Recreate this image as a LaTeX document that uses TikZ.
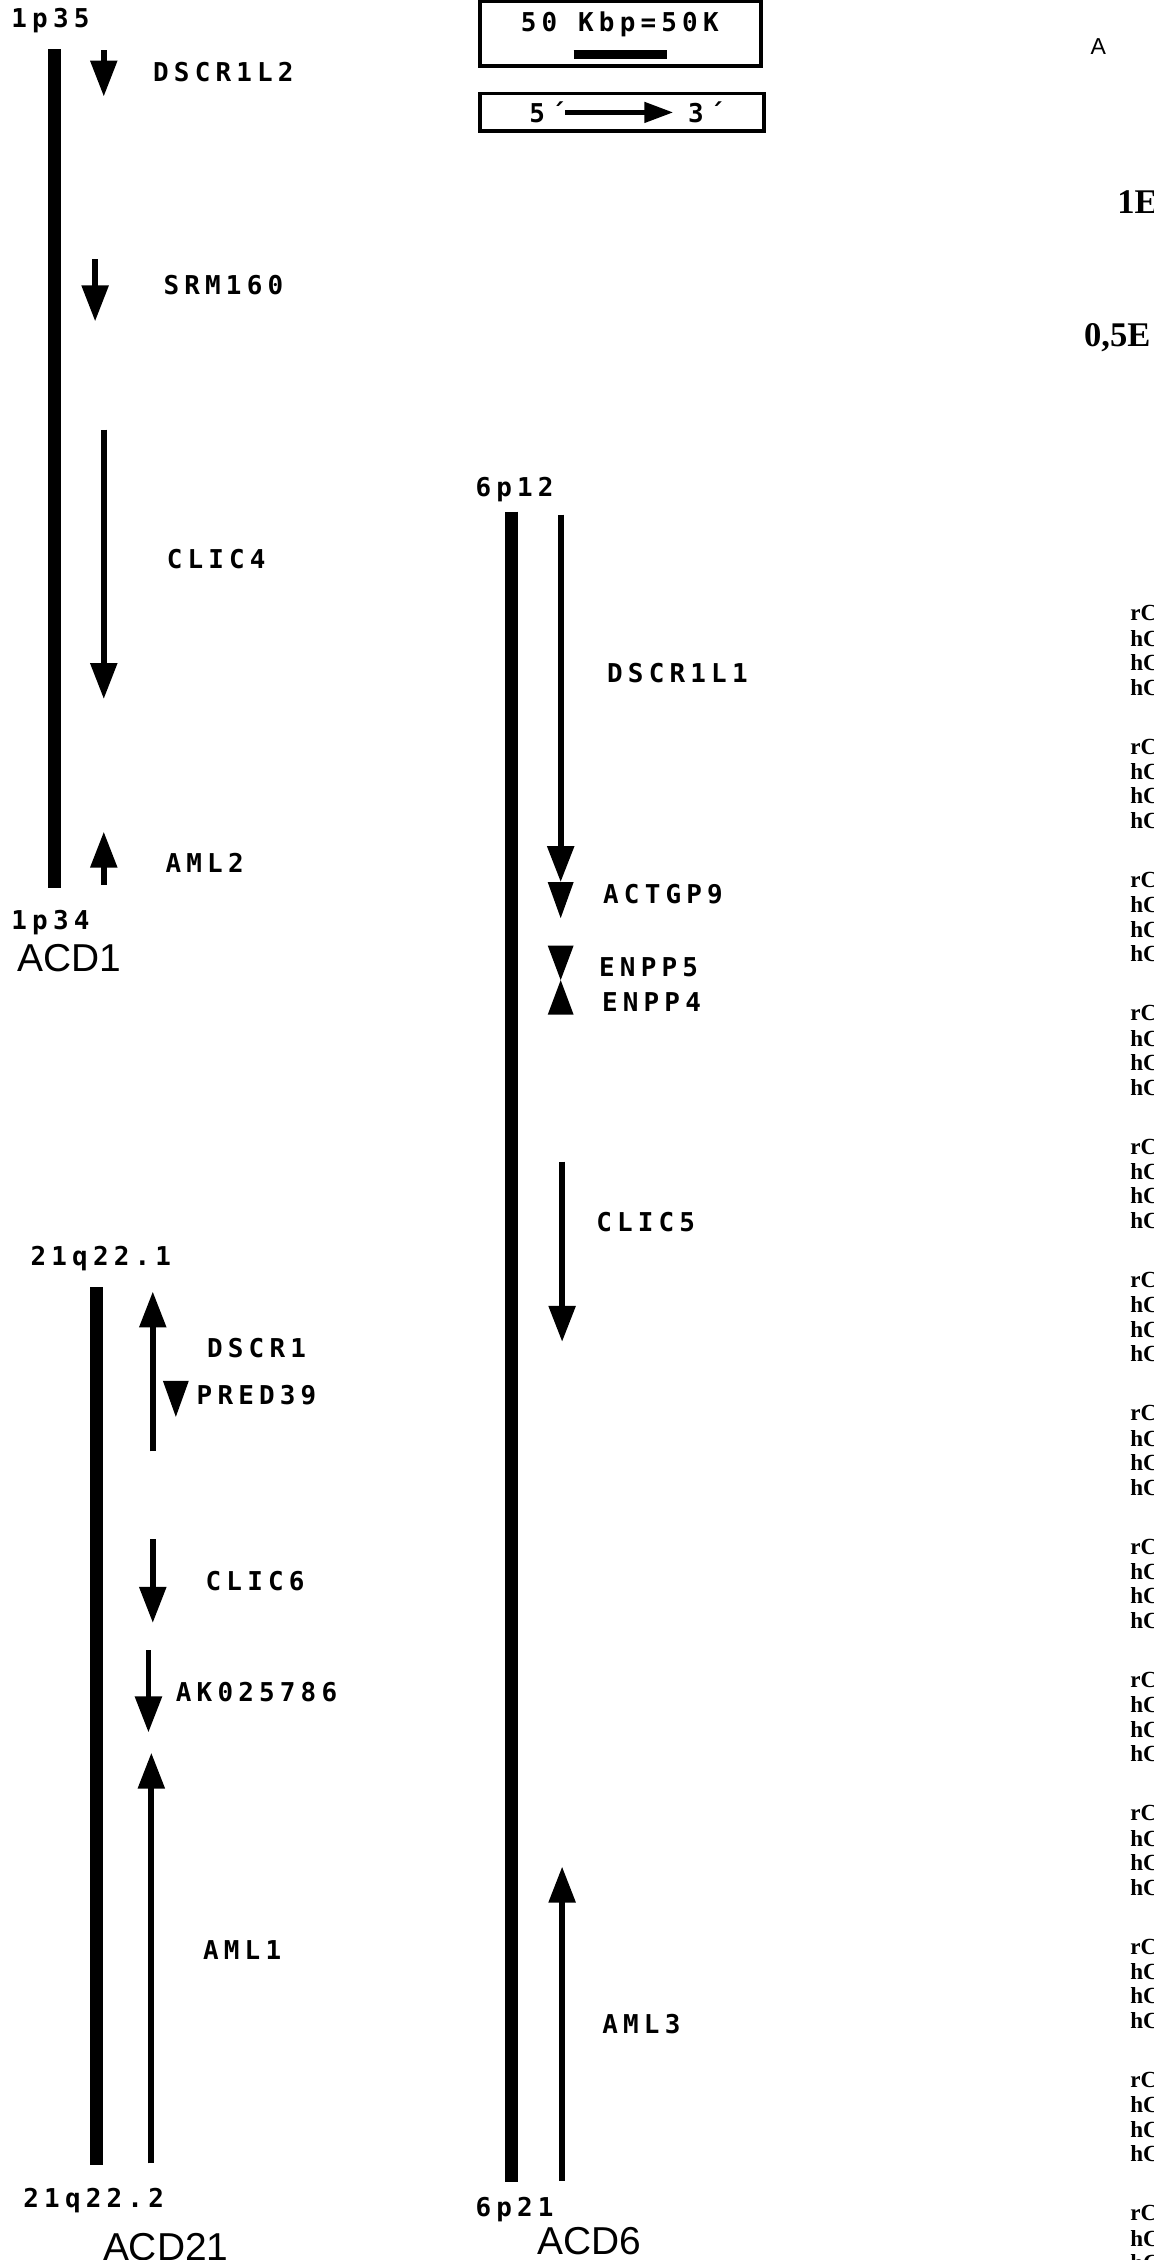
\documentclass[tikz,border=0pt]{standalone}
\usepackage{fontspec}
\setmonofont{DejaVu Sans Mono}[LetterSpace=20]
\newfontfamily\labfont{Liberation Sans}
\newfontfamily\serb{Liberation Serif}
\usetikzlibrary{arrows.meta}
\tikzset{
 lbl/.style={font=\ttfamily\bfseries\fontsize{18}{20}\selectfont,anchor=center,inner sep=0},
 big/.style={font=\labfont\fontsize{27}{29}\selectfont,inner sep=0},
 chrom/.style={line width=9pt},
 gene/.style={line width=4pt,-{Triangle[width=18pt,length=25pt]}},
 tri/.style={fill=black,draw=none},
 frag/.style={font=\serb\bfseries\fontsize{16}{16}\selectfont,anchor=north west,inner sep=0}
}
\begin{document}
\begin{tikzpicture}[x=1pt,y=-1pt]
\useasboundingbox (0,0) rectangle (800,1568);
\clip (0,0) rectangle (800,1568);
% scale boxes
\draw[line width=2.5pt] (333,1) rectangle (528,46);
\node[lbl] (kb) at (430,17) {50 Kbp=50K};
\coordinate (b1) at (398,38); \coordinate (b2) at (463,38);
\draw[line width=6pt] (b1) -- (b2);
\draw[line width=2.5pt] (333,65) rectangle (530,91);
\node[lbl] (p5) at (380,78) {5´};
\node[lbl] (p3) at (490,78) {3´};
\draw[line width=3pt,-{Triangle[width=14pt,length=20pt]}] (392,78) -- (467,78);
% ACD1
\node[lbl] (a1t) at (35,14) {1p35};
\node[lbl] (a1b) at (35,640) {1p34};
\node[big] (a1) at (48,665) {ACD1};
\coordinate (c1a) at (38,34); \coordinate (c1b) at (38,616);
\draw[chrom] (c1a) -- (c1b);
\coordinate (g1a) at (72,35); \coordinate (g1b) at (72,67);
\draw[gene] (g1a) -- (g1b); \node[lbl] (l1) at (155,50) {DSCR1L2};
\coordinate (g2a) at (66,180); \coordinate (g2b) at (66,223);
\draw[gene] (g2a) -- (g2b); \node[lbl] (l2) at (155,198) {SRM160};
\coordinate (g3a) at (72,298); \coordinate (g3b) at (72,485);
\draw[gene] (g3a) -- (g3b); \node[lbl] (l3) at (150,388) {CLIC4};
\coordinate (g4a) at (72,614); \coordinate (g4b) at (72,577);
\draw[gene] (g4a) -- (g4b); \node[lbl] (l4) at (142,599) {AML2};
% ACD21
\node[lbl] (b1t) at (70,873) {21q22.1};
\node[lbl] (b1b) at (65,1527) {21q22.2};
\node[big,anchor=north] (b21) at (115,1549) {ACD21};
\coordinate (c2a) at (67,893); \coordinate (c2b) at (67,1502);
\draw[chrom] (c2a) -- (c2b);
\coordinate (h1a) at (106,1007); \coordinate (h1b) at (106,896);
\draw[gene] (h1a) -- (h1b); \node[lbl] (m1) at (178,935) {DSCR1};
\path[tri] (113,958) -- (131,958) -- (122,983) -- cycle;
\node[lbl] (m2) at (178,968) {PRED39};
\coordinate (h3a) at (106,1068); \coordinate (h3b) at (106,1126);
\draw[gene] (h3a) -- (h3b); \node[lbl] (m3) at (177,1097) {CLIC6};
\coordinate (h4a) at (103,1145); \coordinate (h4b) at (103,1202);
\draw[gene] (h4a) -- (h4b); \node[lbl] (m4) at (178,1174) {AK025786};
\coordinate (h5a) at (105,1501); \coordinate (h5b) at (105,1216);
\draw[gene] (h5a) -- (h5b); \node[lbl] (m5) at (168,1353) {AML1};
% ACD6
\node[lbl] (d1t) at (357,340) {6p12};
\node[lbl] (d1b) at (357,1533) {6p21};
\node[big,anchor=north] (d6) at (409,1545) {ACD6};
\coordinate (c3a) at (355,355); \coordinate (c3b) at (355,1514);
\draw[chrom] (c3a) -- (c3b);
\coordinate (k1a) at (389,357); \coordinate (k1b) at (389,612);
\draw[gene] (k1a) -- (k1b); \node[lbl] (n1) at (470,467) {DSCR1L1};
\path[tri] (380,612) -- (398,612) -- (389,637) -- cycle;
\node[lbl] (n2) at (460,620) {ACTGP9};
\path[tri] (380,656) -- (398,656) -- (389,680) -- cycle;
\path[tri] (380,704) -- (398,704) -- (389,680) -- cycle;
\node[lbl] (n3) at (450,671) {ENPP5};
\node[lbl] (n4) at (452,695) {ENPP4};
\coordinate (k4a) at (390,806); \coordinate (k4b) at (390,931);
\draw[gene] (k4a) -- (k4b); \node[lbl] (n5) at (448,848) {CLIC5};
\coordinate (k5a) at (390,1513); \coordinate (k5b) at (390,1295);
\draw[gene] (k5a) -- (k5b); \node[lbl] (n6) at (445,1404) {AML3};
% right-edge fragments
\node[font=\labfont\fontsize{16}{16}\selectfont] (fa) at (762,32) {A};
\node[font=\serb\bfseries\fontsize{24}{24}\selectfont,anchor=west,inner sep=0] (f1) at (775,140) {1E};
\node[font=\serb\bfseries\fontsize{24}{24}\selectfont,anchor=west,inner sep=0] (f2) at (752,234) {0,5E};
\foreach \g in {0,...,12}{
  \foreach \r/\t in {0/rCLIC,1/hCLIC,2/hCLIC,3/hCLIC}{
    \node[frag] at (784,420+92.5*\g+17*\r) {\t};
  }
}
\end{tikzpicture}
\end{document}
